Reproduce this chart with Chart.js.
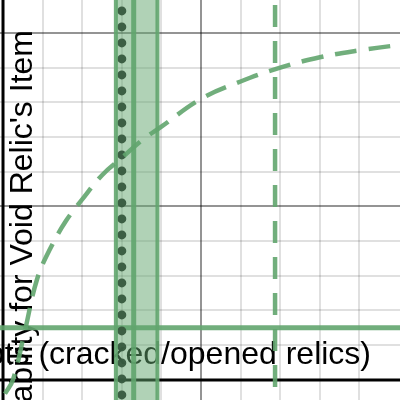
<!DOCTYPE html>
<html>
<head>
<script src="https://cdn.jsdelivr.net/npm/chart.js@4"></script>
<style>body{margin:0;background:#fff}</style>
</head>
<body>
<canvas id="c" width="400" height="400"></canvas>
<script>
// Podaci ocitani sa slike (x = broj pokusaja, y = verovatnoca)
const attempts = [0.05, 0.25, 0.55, 0.86, 1.2, 1.6, 2.0, 2.5, 3.0, 3.5, 4.0, 5.0, 6.0, 7.0, 8.0, 9.0, 10.0, 10.5];
const probability = [-0.04, 0.0, 0.14, 0.29, 0.38, 0.46, 0.52, 0.59, 0.64, 0.69, 0.73, 0.81, 0.86, 0.90, 0.93, 0.95, 0.965, 0.97];
const expectedAttempts = 3.0;     // tackasta linija
const rangeLow = 2.85;            // pocetak pojasa
const rangeMid = 3.3;
const rangeHigh = 3.9;
const ninetyPercentAttempts = 6.87;
const thresholdProb = 0.15;

const green = 'rgba(98,165,110,0.9)';
const xMin = -0.076, xMax = 10.025, yMin = -0.058, yMax = 1.095;

function vLine(x) { return [{x: x, y: yMin - 1}, {x: x, y: yMax + 1}]; }

const bandPlugin = {
    id: 'band',
    beforeDatasetsDraw(chart) {
        const {ctx, scales: {x, y}, chartArea} = chart;
        ctx.save();
        // ose
        ctx.strokeStyle = '#000';
        ctx.lineWidth = 3;
        const x0 = x.getPixelForValue(0), y0 = y.getPixelForValue(0);
        ctx.beginPath();
        ctx.moveTo(x0, chartArea.top); ctx.lineTo(x0, chartArea.bottom);
        ctx.moveTo(chartArea.left, y0); ctx.lineTo(chartArea.right, y0);
        ctx.stroke();
        // naslovi osa
        ctx.fillStyle = '#000';
        ctx.font = '32px "Liberation Sans", Arial, sans-serif';
        ctx.textAlign = 'right';
        ctx.textBaseline = 'middle';
        ctx.fillText('Number of Attempts (cracked/opened relics)', 371, 355);
        ctx.translate(23, 30);
        ctx.rotate(-Math.PI / 2);
        ctx.fillText("Probability for Void Relic's Item", 0, 0);
        ctx.restore();
        ctx.save();
        const x1 = x.getPixelForValue(rangeLow), x2 = x.getPixelForValue(rangeHigh);
        ctx.fillStyle = 'rgba(98,165,110,0.5)';
        ctx.fillRect(x1, chartArea.top, x2 - x1, chartArea.bottom - chartArea.top);
        ctx.restore();
    }
};

function gridColor(v) {
    if (Math.abs(v) < 1e-6) return 'rgba(0,0,0,0)';
    if (Math.abs(v - Math.round(v)) > 1e-6) return 'rgba(0,0,0,0)';
    return Math.round(v) % 5 === 0 ? 'rgba(0,0,0,0.42)' : 'rgba(0,0,0,0.12)';
}

new Chart(document.getElementById('c').getContext('2d'), {
    type: 'scatter',
    data: {
        datasets: [
            { data: attempts.map((a, i) => ({x: a, y: probability[i]})), showLine: true, borderColor: green,
              borderWidth: 4.5, borderDash: [22, 12], pointRadius: 0, tension: 0.4 },
            { data: vLine(rangeLow), showLine: true, borderColor: green, borderWidth: 4, pointRadius: 0 },
            { data: vLine(rangeMid), showLine: true, borderColor: green, borderWidth: 5, pointRadius: 0 },
            { data: vLine(rangeHigh), showLine: true, borderColor: green, borderWidth: 4, pointRadius: 0 },
            { data: vLine(expectedAttempts), showLine: true, borderColor: 'rgba(55,90,62,0.95)', borderWidth: 9,
              borderDash: [0, 16], borderCapStyle: 'round', pointRadius: 0 },
            { data: vLine(ninetyPercentAttempts), showLine: true, borderColor: green, borderWidth: 4.5,
              borderDash: [22, 14], pointRadius: 0 },
            { data: [{x: xMin - 1, y: thresholdProb}, {x: xMax + 1, y: thresholdProb}], showLine: true,
              borderColor: green, borderWidth: 5, pointRadius: 0 }
        ]
    },
    options: {
        responsive: false,
        animation: false,
        layout: { padding: 0 },
        plugins: { legend: { display: false }, tooltip: { enabled: false } },
        scales: {
            x: {
                type: 'linear', min: xMin, max: xMax,
                ticks: { display: false, stepSize: 1 },
                border: { display: false },
                grid: { drawTicks: false, lineWidth: 2, color: c => gridColor(c.tick.value) }
            },
            y: {
                type: 'linear', min: yMin, max: yMax,
                ticks: { display: false, stepSize: 0.1 },
                border: { display: false },
                grid: { drawTicks: false, lineWidth: 2, color: c => gridColor(c.tick.value * 10) }
            }
        }
    },
    plugins: [bandPlugin]
});
</script>
</body>
</html>
